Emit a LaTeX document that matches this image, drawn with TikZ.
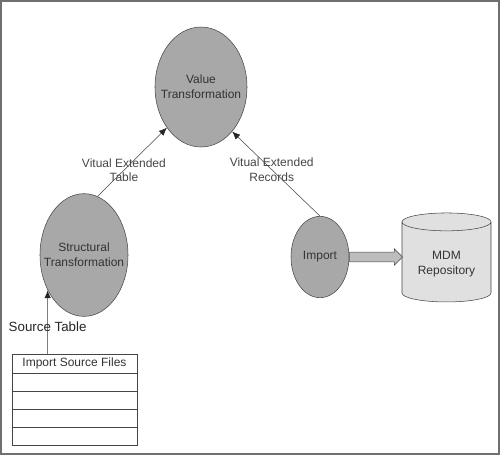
\documentclass[tikz,border=0pt]{standalone}
\usepackage{fontspec}
\setmainfont{Liberation Sans}
\usepackage{tikz}
\usetikzlibrary{shapes.geometric}
\usetikzlibrary{shapes.arrows}
\usetikzlibrary{arrows.meta}
\definecolor{procgray}{HTML}{A8A8A8}
\definecolor{procline}{HTML}{454545}
\definecolor{textgray}{HTML}{333333}
\definecolor{arrowgray}{HTML}{BDBDBD}
\definecolor{repogray}{HTML}{E0E0E0}
\definecolor{framegray}{HTML}{707070}
\tikzset{every edge/.style={draw, -{Latex[length=6pt,width=5pt,color=black!85]}, procline}}
\tikzset{proc/.style={ellipse, draw=procline, fill=procgray, inner sep=0pt}}
\tikzset{cell/.style={draw=procline, fill=white, minimum width=93.75pt, minimum height=13.5pt, inner sep=0pt}}

\begin{document}
\begin{tikzpicture}[x=0.75pt, y=-0.75pt, text=textgray, font=\fontsize{9}{11}\selectfont]      % flux d'import
    \useasboundingbox (0,0) rectangle (500,455);
    \draw[framegray, line width=1.5pt] (1,1) rectangle (499,454);

    \node[proc, minimum width=69pt, minimum height=90pt, label={[align=center]center:Value\\Transformation}] at (201, 87) (value) {};
    \node[proc, minimum width=66pt, minimum height=92pt, label={[align=center]center:Structural\\Transformation}] at (84, 255) (struct) {};
    \node[proc, minimum width=43.5pt, minimum height=61pt, label={center:Import}] at (320, 257) (imp) {};
    \node[cylinder, shape border rotate=90, aspect=0.27, draw=procline, fill=repogray, minimum width=66.75pt, minimum height=66.75pt, align=center] at (446.5, 264) (repo) {MDM\\Repository};
    \node[single arrow, anchor=tail, draw=procline, fill=arrowgray, inner sep=3.4pt, minimum height=39.75pt, single arrow head extend=2.6pt] at (imp.east) (push) {};

    \draw (struct.77) edge node[pos=0.38, align=center] {Vitual Extended\\Table} (value.230);
    \draw (imp.north) edge node[pos=0.55, align=center] {Vitual Extended\\Records} (value.305);

    % table en bas
    \node[cell, minimum height=14.25pt] at (74.5, 363.5) (hdr) {Import Source Files};
    \foreach \i in {1,...,4}
      \node[cell] at (74.5, 364+18*\i) (row\i) {};

    \draw (hdr.north -| struct.224) edge[draw=gray, line width=1pt] node[pos=0.42, text=black!85, font=\fontsize{10}{12}\selectfont] {Source Table} (struct.224);
  \end{tikzpicture}
\end{document}
